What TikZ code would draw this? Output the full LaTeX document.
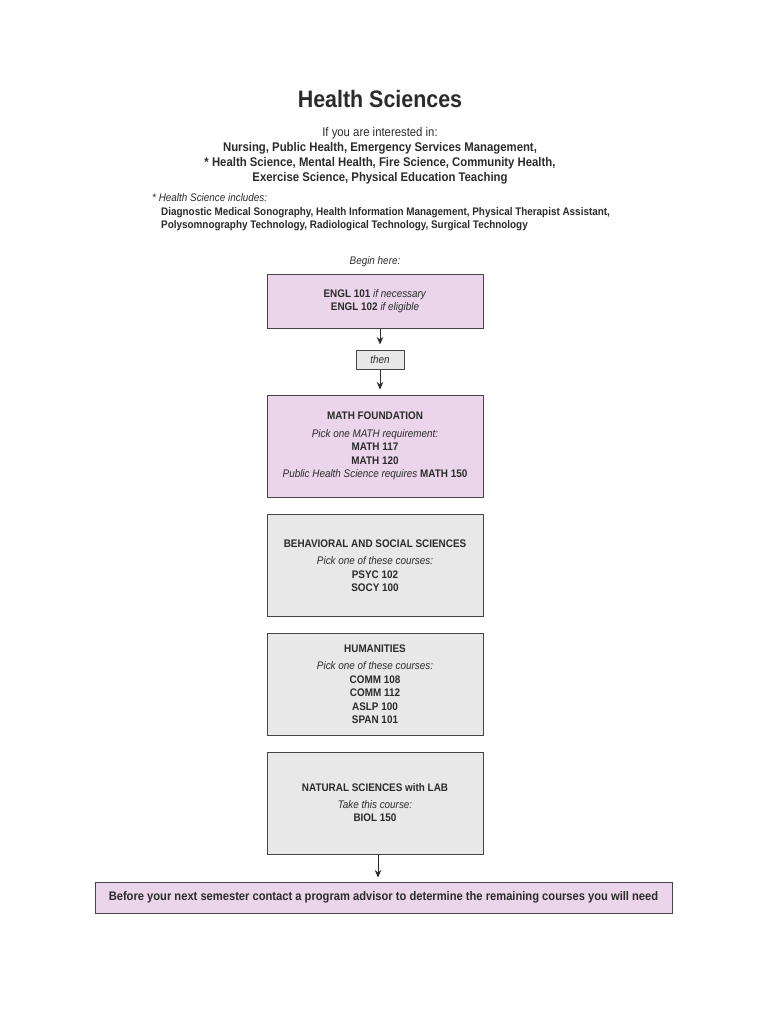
\documentclass[tikz,border=0pt]{standalone}
\usepackage{fontspec}
\setmainfont{Liberation Sans}[FakeStretch=0.9]
\usetikzlibrary{arrows.meta}
\definecolor{pinkf}{HTML}{EAD5EB}
\definecolor{grayf}{HTML}{E8E8E8}
\definecolor{txt}{HTML}{2B2B2B}
\definecolor{bord}{HTML}{454545}
\tikzset{
  box/.style={draw=bord, line width=1pt, text=txt, align=center, inner sep=0pt,
    font=\fontsize{11}{13.5}\selectfont},
  pbox/.style={box, fill=pinkf},
  gbox/.style={box, fill=grayf},
  course/.style={box, minimum width=216pt, minimum height=102pt},
  arr/.style={draw=txt, line width=1pt, -{Stealth[length=7.5pt,width=6.5pt]}},
  plain/.style={text=txt, inner sep=0pt, align=center}
}
\begin{document}
\begin{tikzpicture}[x=1pt,y=-1pt]
\useasboundingbox[fill=white] (0,0) rectangle (768,1024);

\node[plain, font=\fontsize{23.8}{27}\selectfont\bfseries] (title) at (380,99) {Health Sciences};
\node[plain, font=\fontsize{12.6}{15}\selectfont] (intro) at (380,156)
  {If you are interested in:\\
   \textbf{Nursing, Public Health, Emergency Services Management,}\\
   \textbf{* Health Science, Mental Health, Fire Science, Community Health,}\\
   \textbf{Exercise Science, Physical Education Teaching}};
\node[plain, anchor=west, font=\fontsize{11}{13}\selectfont\itshape] (incl) at (152,198)
  {* Health Science includes:};
\node[plain, anchor=north west, align=left, font=\fontsize{11}{13}\selectfont\bfseries] (list) at (161,207)
  {Diagnostic Medical Sonography, Health Information Management, Physical Therapist Assistant,\\
   Polysomnography Technology, Radiological Technology, Surgical Technology};

\node[plain, font=\fontsize{11}{13}\selectfont\itshape] (begin) at (375,262) {Begin here:};

\node[pbox, minimum width=216pt, minimum height=54pt] (engl) at (375,301)
  {\textbf{ENGL 101} \textit{if necessary}\\ \textbf{ENGL 102} \textit{if eligible}};

\node[gbox, minimum width=48pt, minimum height=19pt, font=\fontsize{11}{13}\selectfont\itshape] (then) at (380,359.5) {then};

\node[course, fill=pinkf] (math) at (375,446)
  {\textbf{MATH FOUNDATION}\\[4pt]
   \textit{Pick one MATH requirement:}\\
   \textbf{MATH 117}\\
   \textbf{MATH 120}\\
   \textit{Public Health Science requires} \textbf{MATH 150}};

\node[course, fill=grayf] (beh) at (375,565.5)
  {\textbf{BEHAVIORAL AND SOCIAL SCIENCES}\\[4pt]
   \textit{Pick one of these courses:}\\
   \textbf{PSYC 102}\\
   \textbf{SOCY 100}};

\node[course, fill=grayf] (hum) at (375,684)
  {\textbf{HUMANITIES}\\[4pt]
   \textit{Pick one of these courses:}\\
   \textbf{COMM 108}\\
   \textbf{COMM 112}\\
   \textbf{ASLP 100}\\
   \textbf{SPAN 101}};

\node[course, fill=grayf] (nat) at (375,803)
  {\textbf{NATURAL SCIENCES with LAB}\\[3pt]
   \textit{Take this course:}\\
   \textbf{BIOL 150}};

\node[pbox, minimum width=577pt, minimum height=31pt, font=\fontsize{12.4}{14}\selectfont\bfseries] (fin) at (383.5,897.5)
  {Before your next semester contact a program advisor to determine the remaining courses you will need};

\draw[arr, shorten >=5pt] ([xshift=5pt]engl.south) -- (then.north);
\draw[arr, shorten >=5pt] (then.south) -- ([xshift=5pt]math.north);
\draw[arr, shorten >=4pt] ([xshift=3pt]nat.south) -- ([xshift=3pt]nat.south |- fin.north);
\end{tikzpicture}
\end{document}
